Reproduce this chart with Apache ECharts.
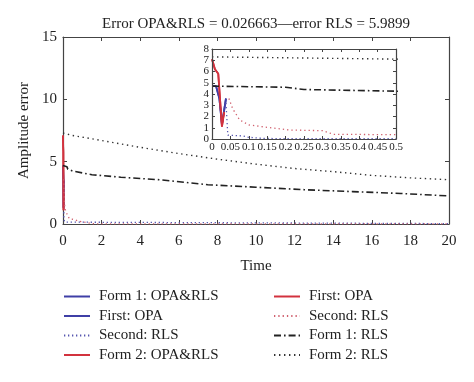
<!DOCTYPE html>
<html>
<head>
<meta charset="utf-8">
<script src="https://cdn.jsdelivr.net/npm/echarts@6/dist/echarts.min.js"></script>
<style>html,body{margin:0;padding:0;background:#fff}#c{width:474px;height:382px}</style>
</head>
<body>
<div id="c"></div>
<script>
// ---- data ----
const titleText = 'Error OPA&RLS = 0.026663\u2014error RLS = 5.9899';
const xMainTicks = [0, 2, 4, 6, 8, 10, 12, 14, 16, 18, 20];
const yMainTicks = [0, 5, 10, 15];
const xInsetTicks = [0, 0.05, 0.1, 0.15, 0.2, 0.25, 0.3, 0.35, 0.4, 0.45, 0.5];
const yInsetTicks = [0, 1, 2, 3, 4, 5, 6, 7, 8];

const blueSolidT = [0, 0.011, 0.02, 0.027, 0.038];
const blueSolidV = [4.7, 4.7, 3.6, 1.3, 3.6];
const redSolidT = [0, 0.008, 0.017, 0.027, 0.033];
const redSolidV = [7.1, 6.2, 5.8, 1.1, 2.4];
const blueDotT = [0.038, 0.043, 0.084, 0.1, 0.14, 0.2, 20];
const blueDotV = [3.2, 0.35, 0.27, 0.15, 0.05, 0.03, 0.03];
const redDotT = [0.046, 0.056, 0.075, 0.1, 0.15, 0.21, 0.3, 0.33, 0.5, 0.9, 1.6, 2, 20];
const redDotV = [3.6, 2.7, 1.7, 1.25, 1.04, 0.8, 0.74, 0.42, 0.38, 0.2, 0.02, 0.01, 0.01];
const dashDotT = [0, 0.2, 0.25, 0.5, 1.5, 3, 5, 7.5, 10, 12.5, 15, 17.5, 20];
const dashDotV = [4.7, 4.6, 4.4, 4.25, 3.95, 3.75, 3.55, 3.15, 2.95, 2.75, 2.6, 2.45, 2.25];
const blackDotT = [0, 0.5, 2, 4, 5, 6, 8, 10, 12, 14, 15, 16, 18, 20];
const blackDotV = [7.3, 7.1, 6.7, 6.15, 5.9, 5.65, 5.2, 4.8, 4.45, 4.2, 4.05, 3.9, 3.7, 3.55];

const legendLeft = ['Form 1: OPA&RLS', 'First: OPA', 'Second: RLS', 'Form 2: OPA&RLS'];
const legendRight = ['First: OPA ', 'Second: RLS ', 'Form 1: RLS', 'Form 2: RLS'];

// ---- build ----
const zip = (t, v) => t.map((x, i) => [x, v[i]]);
const FONT = 'Liberation Serif';
const BLUE = '#3f3fa6', RED = '#d2323e', RED_DOT = '#d0606e', BLUE_DOT = '#5656b0', BLACK = '#222';
const AX = '#444';

const curves = [
  {name: legendLeft[0], data: zip(blueSolidT, blueSolidV), color: BLUE, width: 1.8, dash: 'solid'},
  {name: legendLeft[1], data: zip(blueSolidT, blueSolidV), color: BLUE, width: 1.8, dash: 'solid'},
  {name: legendLeft[2], data: zip(blueDotT, blueDotV), color: BLUE_DOT, width: 1.3, dash: [1.3, 2.7]},
  {name: legendRight[0], data: zip(redSolidT, redSolidV), color: RED, width: 1.8, dash: 'solid'},
  {name: legendLeft[3], data: zip(redSolidT, redSolidV), color: RED, width: 1.8, dash: 'solid'},
  {name: legendRight[1], data: zip(redDotT, redDotV), color: RED_DOT, width: 1.3, dash: [1.3, 3]},
  {name: legendRight[2], data: zip(dashDotT, dashDotV), color: BLACK, width: 1.6, dash: [7, 3, 1.6, 3]},
  {name: legendRight[3], data: zip(blackDotT, blackDotV), color: '#333', width: 1.4, dash: [1.4, 3.6]}
];

function mkSeries(c, axisIdx, suffix) {
  return {
    type: 'line', name: c.name + (suffix || ''), xAxisIndex: axisIdx, yAxisIndex: axisIdx,
    data: c.data, symbol: 'none', showSymbol: false, clip: true, animation: false,
    lineStyle: {color: c.color, width: c.width, type: c.dash},
    itemStyle: {color: c.color}, z: 3
  };
}

const series = [];
curves.forEach(c => series.push(mkSeries(c, 0, '')));
curves.forEach(c => series.push(mkSeries(c, 2, '\u0000inset')));

function xAx(grid, min, max, interval, pos, showLabel, fs, tickLen, margin) {
  return {type: 'value', gridIndex: grid, min: min, max: max, interval: interval, position: pos,
    axisLine: {show: true, onZero: false, lineStyle: {color: AX, width: 1.2}},
    axisTick: {show: true, inside: true, length: tickLen, lineStyle: {color: AX}},
    axisLabel: {show: showLabel, color: '#222', fontFamily: FONT, fontSize: fs, margin: margin,
      formatter: v => String(+v.toFixed(2))},
    splitLine: {show: false}};
}

const legendCommon = {orient: 'vertical', top: 284, itemWidth: 26, itemHeight: 14, itemGap: 4.5,
  selectedMode: false, formatter: n => n.trim(),
  itemStyle: {opacity: 0, borderWidth: 0},
  textStyle: {fontFamily: FONT, fontSize: 15, color: '#222', padding: [0, 0, 0, 4]}};

const option = {
  backgroundColor: '#fff',
  animation: false,
  title: {text: titleText, left: 251, textAlign: 'center', top: 12,
    textStyle: {fontFamily: FONT, fontSize: 15, fontWeight: 'normal', color: '#222'}},
  grid: [
    {left: 63, top: 37, width: 386, height: 187, show: false},
    {left: 212, top: 49, width: 184, height: 90, show: true, backgroundColor: '#fff', borderWidth: 0, z: 2}
  ],
  xAxis: [
    Object.assign(xAx(0, 0, 20, 2, 'bottom', true, 15, 4, 10), {name: 'Time', nameLocation: 'middle', nameGap: 35,
      nameTextStyle: {fontFamily: FONT, fontSize: 15, color: '#222'}}),
    xAx(0, 0, 20, 2, 'top', false, 15, 4, 8),
    Object.assign(xAx(1, 0, 0.5, 0.05, 'bottom', true, 11, 3, 3), {z: 4}),
    Object.assign(xAx(1, 0, 0.5, 0.05, 'top', false, 11, 3, 3), {z: 4})
  ],
  yAxis: [
    Object.assign(xAx(0, 0, 15, 5, 'left', true, 15, 4, 6), {name: 'Amplitude error', nameLocation: 'middle', nameGap: 31,
      nameTextStyle: {fontFamily: FONT, fontSize: 15, color: '#222'}}),
    xAx(0, 0, 15, 5, 'right', false, 15, 4, 8),
    Object.assign(xAx(1, 0, 8, 1, 'left', true, 11, 3, 3), {z: 4}),
    Object.assign(xAx(1, 0, 8, 1, 'right', false, 11, 3, 3), {z: 4})
  ],
  legend: [
    Object.assign({}, legendCommon, {left: 58, data: legendLeft}),
    Object.assign({}, legendCommon, {left: 268, data: legendRight})
  ],
  series: series
};

const chart = echarts.init(document.getElementById('c'), null, {renderer: 'canvas'});
chart.setOption(option);
</script>
</body>
</html>
